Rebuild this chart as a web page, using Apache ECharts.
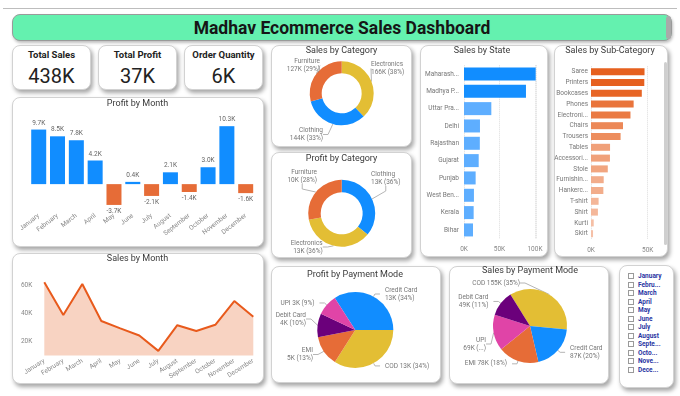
<!DOCTYPE html>
<html>
<head>
<meta charset="utf-8">
<title>Madhav Ecommerce Sales Dashboard</title>
<script src="https://cdn.jsdelivr.net/npm/echarts@6/dist/echarts.min.js"></script>
<style>
  body { margin: 0; width: 680px; height: 396px; background: #fff; overflow: hidden; position: relative; font-family: Roboto, 'Noto Sans', sans-serif; }
  .panel { position: absolute; background: #fff; border: 1px solid #d2d2d2; border-radius: 8px; box-shadow: 2px 3px 4px rgba(0,0,0,0.35); box-sizing: border-box; }
  .topline { position: absolute; left: 3px; top: 8px; width: 674px; height: 1px; background: #bdbdbd; }
  .banner { left: 12px; top: 14px; width: 660px; height: 27px; background: #64F1AF; border-color: #9a9a9a; box-shadow: 1px 2px 3px rgba(0,0,0,0.25);
            text-align: center; font-weight: bold; font-size: 17.5px; line-height: 27px; color: #161616; }
  .bannerbar { position: absolute; right: 0; top: 1px; width: 5px; height: 23px; background: #a9a9a9; border-radius: 3px; }
  .kpi .kl { text-align: center; font-weight: bold; font-size: 9.5px; color: #222; margin-top: 3px; }
  .kpi .kv { text-align: center; font-size: 20px; color: #222; line-height: 24px; margin-top: 4px; }
  .scroll { position: absolute; left: 664px; top: 62px; width: 3px; height: 183px; background: #cfcfcf; border-radius: 2px; }
  .slicer .row { position: absolute; left: 8px; height: 8px; font-size: 6.5px; font-weight: bold; color: #2A36A3; line-height: 8px; white-space: nowrap; }
  .slicer .box { display: inline-block; width: 4px; height: 4px; border: 1px solid #9a9a9a; margin-right: 4px; vertical-align: -1px; }
  #main { position: absolute; left: 0; top: 0; width: 680px; height: 396px; }
</style>
</head>
<body>
<div class="topline"></div>
<div class="panel banner">Madhav Ecommerce Sales Dashboard<div class="bannerbar"></div></div>
<div id="kpis"></div>
<div class="panel" style="left:12px;top:97px;width:252px;height:150px"></div>
<div class="panel" style="left:12px;top:253px;width:252px;height:131px"></div>
<div class="panel" style="left:271px;top:45px;width:141px;height:102px"></div>
<div class="panel" style="left:271px;top:152px;width:141px;height:106px"></div>
<div class="panel" style="left:420px;top:45px;width:128px;height:212px"></div>
<div class="panel" style="left:554px;top:45px;width:114px;height:212px"></div>
<div class="scroll"></div>
<div class="panel" style="left:271px;top:266px;width:170px;height:117px"></div>
<div class="panel" style="left:449px;top:266px;width:160px;height:118px"></div>
<div class="panel slicer" id="slicer" style="left:619px;top:265px;width:55px;height:123px"></div>
<div id="main"></div>
<script>
  // KPI cards
  var kpiNames = ['Total Sales', 'Total Profit', 'Order Quantity'];
  var kpiValues = ['438K', '37K', '6K'];

  var months = ['January', 'February', 'March', 'April', 'May', 'June', 'July', 'August', 'September', 'October', 'November', 'December'];
  var profitByMonth = [9700, 8500, 7800, 4200, -3700, 400, -2100, 2100, -1400, 3000, 10300, -1600];
  var salesByMonth = [62400, 39000, 61200, 34700, 29400, 24300, 13300, 31700, 27600, 32000, 49000, 37700];

  var salesCategories = ['Electronics', 'Clothing', 'Furniture'];
  var salesByCategory = [166000, 144000, 127000];
  var profitCategories = ['Clothing', 'Electronics', 'Furniture'];
  var profitByCategory = [13300, 13300, 10400];

  var states = ['Maharash...', 'Madhya P...', 'Uttar Pra...', 'Delhi', 'Rajasthan', 'Gujarat', 'Punjab', 'West Ben...', 'Kerala', 'Bihar'];
  var salesByState = [101000, 87300, 38500, 22500, 22300, 20700, 16400, 14000, 13600, 12700];

  var subCategories = ['Saree', 'Printers', 'Bookcases', 'Phones', 'Electroni...', 'Chairs', 'Trousers', 'Tables', 'Accessori...', 'Stole', 'Furnishin...', 'Hankerc...', 'T-shirt', 'Shirt', 'Kurti', 'Skirt'];
  var salesBySubCategory = [47200, 47000, 44800, 37600, 34800, 28200, 26100, 16800, 16700, 14800, 11200, 10900, 6700, 6100, 2400, 1800];

  var profitPayModes = ['Credit Card', 'COD', 'EMI', 'Debit Card', 'UPI'];
  var profitByPayment = [12600, 12600, 4800, 3700, 3300];
  var salesPayModes = ['COD', 'Credit Card', 'EMI', 'UPI', 'Debit Card'];
  var salesByPayment = [155000, 87000, 78000, 69000, 49000];

  var slicerItems = ['January', 'Febru...', 'March', 'April', 'May', 'June', 'July', 'August', 'Septe...', 'Octo...', 'Nove...', 'Dece...'];

  var FONT = 'Roboto';
  var colorOf = {
    'Electronics': '#E3BE34', 'Clothing': '#118DFF', 'Furniture': '#E66C37',
    'Credit Card': '#118DFF', 'COD': '#E3BE34', 'EMI': '#E66C37', 'Debit Card': '#6B007B', 'UPI': '#E044A7'
  };

  // kpi cards + slicer are plain html
  var kpiLeft = [12, 98, 184];
  var kpiHtml = '';
  for (var i = 0; i < kpiNames.length; i++) {
    kpiHtml += '<div class="panel kpi" style="left:' + kpiLeft[i] + 'px;top:45px;width:79px;height:45px">' +
      '<div class="kl">' + kpiNames[i] + '</div><div class="kv">' + kpiValues[i] + '</div></div>';
  }
  document.getElementById('kpis').innerHTML = kpiHtml;

  var slicerHtml = '';
  for (var j = 0; j < slicerItems.length; j++) {
    slicerHtml += '<div class="row" style="top:' + (6 + j * 8.5) + 'px"><span class="box"></span>' + slicerItems[j] + '</div>';
  }
  document.getElementById('slicer').innerHTML = slicerHtml;

  function mix(a, b, t) {
    t = Math.max(0, Math.min(1, t));
    return 'rgb(' + a.map(function (c, k) { return Math.round(c + (b[k] - c) * t); }).join(',') + ')';
  }

  function title(text, x, y) {
    return { text: text, left: x, top: y, textAlign: 'center', padding: 0,
      textStyle: { fontSize: 9, fontWeight: 'normal', color: '#3a3a3a', fontFamily: FONT } };
  }

  function pieLabel(oneLine, cut) {
    return function (p) {
      var txt = Math.round(p.value / 1000) + 'K (' + Math.round(p.percent) + '%)';
      if (cut && cut.indexOf(p.name) >= 0) txt = txt.slice(0, 5) + '...)';
      return oneLine.indexOf(p.name) >= 0 ? p.name + ' ' + txt : p.name + '\n' + txt;
    };
  }

  // spots: label anchor relative to pie center where power bi puts it differently than echarts
  function pie(names, values, center, radius, startAngle, oneLine, cut, spots) {
    return {
      type: 'pie', center: center, radius: radius, startAngle: startAngle, clockwise: true,
      silent: true, avoidLabelOverlap: true,
      data: names.map(function (n, i) { return { name: n, value: values[i], itemStyle: { color: colorOf[n] } }; }),
      label: { formatter: pieLabel(oneLine, cut), fontSize: 6.5, fontFamily: FONT, color: '#777', lineHeight: 8 },
      labelLine: { length: 3, length2: 5, lineStyle: { color: '#b5b5b5', width: 1 } },
      labelLayout: function (p) {
        var s = spots && spots[names[p.dataIndex]];
        if (!s) return {};
        return { x: center[0] + s[0], y: center[1] + s[1], align: s[2], verticalAlign: 'middle' };
      }
    };
  }

  var noLine = { show: false, onZero: false };
  var noTick = { show: false };

  var chart = echarts.init(document.getElementById('main'));
  var option = {
    animation: false,
    textStyle: { fontFamily: FONT },
    title: [
      title('Profit by Month', 137.5, 99),
      title('Sales by Month', 137.5, 254),
      title('Sales by Category', 341.5, 46),
      title('Profit by Category', 341.5, 154),
      title('Sales by State', 482, 46),
      title('Sales by Sub-Category', 610, 46),
      title('Profit by Payment Mode', 355, 270),
      title('Sales by Payment Mode', 530, 266)
    ],
    grid: [
      { left: 29.3, top: 120, width: 225.8, height: 90, outerBoundsMode: 'none' },
      { left: 44.3, top: 278.7, width: 209, height: 76.8, outerBoundsMode: 'none' },
      { left: 464, top: 65.3, width: 72.4, height: 173.3, outerBoundsMode: 'none' },
      { left: 591, top: 66.3, width: 56.7, height: 172.8, outerBoundsMode: 'none' }
    ],
    xAxis: [
      { gridIndex: 0, type: 'category', data: months, axisLine: noLine, axisTick: noTick,
        axisLabel: { rotate: 38, interval: 0, fontSize: 6.5, color: '#888', margin: 5 } },
      { gridIndex: 1, type: 'category', data: months, boundaryGap: false, axisLine: noLine, axisTick: noTick,
        axisLabel: { rotate: 32, interval: 0, fontSize: 6.5, color: '#888', margin: 5 } },
      { gridIndex: 2, type: 'value', min: 0, max: 102000, interval: 50000, axisLine: noLine, axisTick: noTick,
        splitLine: { show: true, lineStyle: { type: 'dotted', color: '#dcdcdc' } },
        axisLabel: { fontSize: 6.5, color: '#888', margin: 7, formatter: function (v) { return v % 50000 === 0 ? v / 1000 + 'K' : ''; } } },
      { gridIndex: 3, type: 'value', min: 0, max: 50000, interval: 50000, axisLine: noLine, axisTick: noTick,
        splitLine: { show: true, lineStyle: { type: 'dotted', color: '#dcdcdc' } },
        axisLabel: { fontSize: 6.5, color: '#888', margin: 8, formatter: function (v) { return v / 1000 + 'K'; } } }
    ],
    yAxis: [
      { gridIndex: 0, type: 'value', min: -4600, max: 11400, show: false },
      { gridIndex: 1, type: 'value', min: 10000, max: 65000, interval: 10000, axisLine: noLine, axisTick: noTick,
        splitLine: { show: false },
        axisLabel: { fontSize: 6.5, color: '#888', margin: 12, formatter: function (v) { return v % 20000 === 0 ? v / 1000 + 'K' : ''; } } },
      { gridIndex: 2, type: 'category', data: states, inverse: true, axisLine: noLine, axisTick: noTick,
        axisLabel: { fontSize: 6.5, color: '#777', margin: 5, interval: 0 } },
      { gridIndex: 3, type: 'category', data: subCategories, inverse: true, axisLine: noLine, axisTick: noTick,
        axisLabel: { fontSize: 6.5, color: '#777', margin: 3, interval: 0 } }
    ],
    series: [
      { type: 'bar', xAxisIndex: 0, yAxisIndex: 0, barWidth: 15, silent: true,
        data: profitByMonth.map(function (v) {
          return { value: v, itemStyle: { color: v >= 0 ? '#118DFF' : '#E66C37' }, label: { position: v >= 0 ? 'top' : 'bottom' } };
        }),
        label: { show: true, fontSize: 6.5, color: '#666', distance: 3,
          formatter: function (p) { return (p.value / 1000).toFixed(1) + 'K'; } } },
      { type: 'line', xAxisIndex: 1, yAxisIndex: 1, data: salesByMonth, symbol: 'none', silent: true,
        lineStyle: { color: '#E85A1C', width: 2 }, areaStyle: { color: '#F8D3C2', opacity: 1 } },
      { type: 'bar', xAxisIndex: 2, yAxisIndex: 2, barWidth: 13, data: salesByState, silent: true,
        itemStyle: { color: function (p) { return mix([94, 174, 255], [17, 141, 255], (p.value - 40000) / 50000); } } },
      { type: 'bar', xAxisIndex: 3, yAxisIndex: 3, barWidth: 7, data: salesBySubCategory, silent: true,
        itemStyle: { color: function (p) { return mix([246, 196, 172], [230, 96, 30], p.value / 47200); } } },
      pie(salesCategories, salesByCategory, [341.7, 93.3], [20, 32], 90, [], null,
        { 'Electronics': [29.3, -24.8, 'left'], 'Furniture': [-21.7, -27.8, 'right'], 'Clothing': [-18.7, 41.2, 'right'] }),
      pie(profitCategories, profitByCategory, [341.7, 213.3], [21, 33.5], 90, [], null,
        { 'Clothing': [29.3, -35.3, 'left'], 'Furniture': [-24.7, -37.3, 'right'], 'Electronics': [-19, 33.7, 'right'] }),
      pie(profitPayModes, profitByPayment, [355.3, 330], [0, 38], 122.7, ['COD', 'UPI'], null,
        { 'Debit Card': [-49.3, -11, 'right'], 'EMI': [-42.3, 24.5, 'right'] }),
      pie(salesPayModes, salesByPayment, [530, 326], [0, 37], 122, ['COD', 'EMI'], ['UPI'],
        { 'COD': [-10, -43, 'right'], 'UPI': [-44, 18, 'right'] })
    ]
  };
  chart.setOption(option);
</script>
</body>
</html>
